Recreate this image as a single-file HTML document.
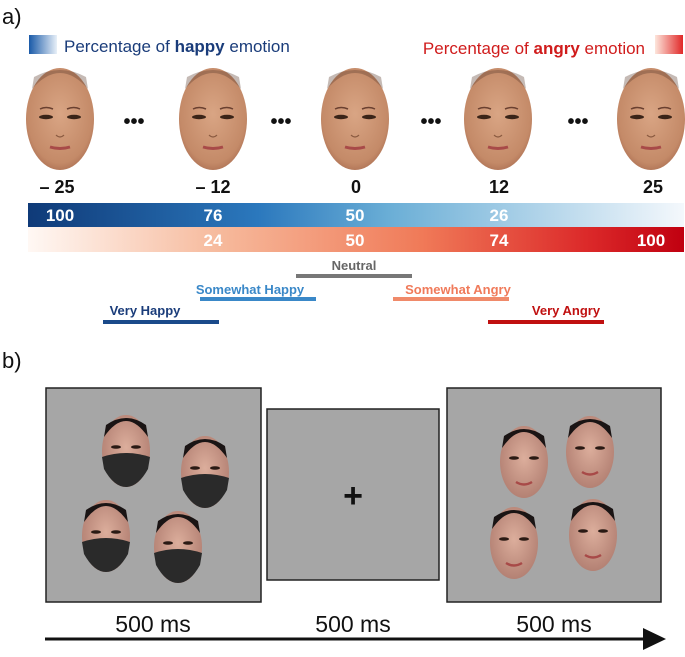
<!DOCTYPE html>
<html><head><meta charset="utf-8"><style>
body{margin:0;background:#fff;width:685px;height:652px;overflow:hidden;font-family:"Liberation Sans",sans-serif}
</style></head><body>
<svg width="685" height="652" viewBox="0 0 685 652" xmlns="http://www.w3.org/2000/svg" font-family="Liberation Sans, sans-serif">
<defs>
<linearGradient id="blueL" x1="0" x2="1"><stop offset="0" stop-color="#0f3a78"/><stop offset="0.35" stop-color="#2b78bd"/><stop offset="0.55" stop-color="#6aaed6"/><stop offset="1" stop-color="#f4f8fc"/></linearGradient>
<linearGradient id="redL" x1="0" x2="1"><stop offset="0" stop-color="#fff8f4"/><stop offset="0.3" stop-color="#f6b89a"/><stop offset="0.6" stop-color="#f07a58"/><stop offset="0.85" stop-color="#dc2a2a"/><stop offset="1" stop-color="#c00010"/></linearGradient>
<linearGradient id="bsw" x1="0" x2="1"><stop offset="0" stop-color="#1a5aa8"/><stop offset="1" stop-color="#e8f0f8"/></linearGradient>
<linearGradient id="rsw" x1="0" x2="1"><stop offset="0" stop-color="#fde6dc"/><stop offset="1" stop-color="#e02828"/></linearGradient>
<radialGradient id="skin" cx="0.5" cy="0.45" r="0.6"><stop offset="0" stop-color="#d9a584"/><stop offset="0.8" stop-color="#c48a68"/><stop offset="1" stop-color="#a86c50"/></radialGradient>
<radialGradient id="skin2" cx="0.5" cy="0.45" r="0.6"><stop offset="0" stop-color="#dcae9c"/><stop offset="1" stop-color="#b07d70"/></radialGradient>
<g id="face">
<ellipse cx="0" cy="0" rx="34" ry="51" fill="url(#skin)"/>
<path d="M-28 -30 Q0 -62 28 -30 L26 -42 Q0 -56 -26 -42Z" fill="#5a3a2a" opacity="0.35"/>
<ellipse cx="-14" cy="-2" rx="7" ry="2.2" fill="#3a2418"/>
<ellipse cx="14" cy="-2" rx="7" ry="2.2" fill="#3a2418"/>
<path d="M-20 -10 Q-14 -13 -7 -10" stroke="#6a4030" stroke-width="1.5" fill="none"/>
<path d="M7 -10 Q14 -13 20 -10" stroke="#6a4030" stroke-width="1.5" fill="none"/>
<path d="M-4 16 Q0 20 4 16" stroke="#8a5a40" stroke-width="1.2" fill="none"/>
<path d="M-10 28 Q0 31 10 28" stroke="#a84a48" stroke-width="3" fill="none"/>
</g>
<g id="smallface">
<ellipse cx="0" cy="0" rx="24" ry="36" fill="url(#skin2)"/>
<path d="M-22 -14 Q0 -46 22 -14 L20 -26 Q0 -40 -20 -26Z" fill="#1a1414"/>
<ellipse cx="-10" cy="-4" rx="5" ry="1.8" fill="#2a1a14"/>
<ellipse cx="10" cy="-4" rx="5" ry="1.8" fill="#2a1a14"/>
</g>
<g id="maskface">
<use href="#smallface"/>
<path d="M-24 6 Q0 -2 24 6 L22 18 Q12 36 0 36 Q-12 36 -22 18Z" fill="#2a2a2a"/>
</g>
<g id="smileface">
<use href="#smallface"/>
<path d="M-8 20 Q0 25 8 20" stroke="#a84a48" stroke-width="2.5" fill="none"/>
</g>
</defs>
<text x="2" y="24" font-size="22" fill="#111">a)</text>
<rect x="29" y="35" width="28" height="19" fill="url(#bsw)"/>
<text x="64" y="52" font-size="17" fill="#1a3c7a">Percentage of <tspan font-weight="bold">happy</tspan> emotion</text>
<text x="645" y="54" font-size="17" fill="#d01c1c" text-anchor="end">Percentage of <tspan font-weight="bold">angry</tspan> emotion</text>
<rect x="655" y="35" width="28" height="19" fill="url(#rsw)"/>
<g>
<use href="#face" x="60" y="119"/><use href="#face" x="213" y="119"/><use href="#face" x="355" y="119"/><use href="#face" x="498" y="119"/><use href="#face" x="651" y="119"/>
</g>
<g font-size="20" font-weight="bold" fill="#111" text-anchor="middle">
<text x="134" y="128">•••</text><text x="281" y="128">•••</text><text x="431" y="128">•••</text><text x="578" y="128">•••</text>
</g>
<g font-size="18" font-weight="bold" fill="#111" text-anchor="middle">
<text x="57" y="193">– 25</text><text x="213" y="193">– 12</text><text x="356" y="193">0</text><text x="499" y="193">12</text><text x="653" y="193">25</text>
</g>
<rect x="28" y="203" width="656" height="24" fill="url(#blueL)"/>
<rect x="28" y="227" width="656" height="25" fill="url(#redL)"/>
<g font-size="17" font-weight="bold" fill="#fff" text-anchor="middle">
<text x="60" y="221">100</text><text x="213" y="221">76</text><text x="355" y="221">50</text><text x="499" y="221">26</text>
<text x="213" y="246">24</text><text x="355" y="246">50</text><text x="499" y="246">74</text><text x="651" y="246">100</text>
</g>
<g font-size="13" font-weight="bold">
<text x="354" y="270" fill="#666" text-anchor="middle">Neutral</text>
<rect x="296" y="274" width="116" height="4" fill="#777"/>
<text x="250" y="294" fill="#3a88c8" text-anchor="middle">Somewhat Happy</text>
<rect x="200" y="297" width="116" height="4" fill="#3a88c8"/>
<text x="458" y="294" fill="#f07a5a" text-anchor="middle">Somewhat Angry</text>
<rect x="393" y="297" width="116" height="4" fill="#f08a6a"/>
<text x="145" y="315" fill="#1a3c7a" text-anchor="middle">Very Happy</text>
<rect x="103" y="320" width="116" height="4" fill="#1a4a8a"/>
<text x="566" y="315" fill="#c01010" text-anchor="middle">Very Angry</text>
<rect x="488" y="320" width="116" height="4" fill="#c01010"/>
</g>
<text x="2" y="368" font-size="22" fill="#111">b)</text>
<rect x="46" y="388" width="215" height="214" fill="#a6a6a6" stroke="#222" stroke-width="1.5"/>
<rect x="267" y="409" width="172" height="171" fill="#a6a6a6" stroke="#222" stroke-width="1.5"/>
<rect x="447" y="388" width="214" height="214" fill="#a6a6a6" stroke="#222" stroke-width="1.5"/>
<g>
<use href="#maskface" x="126" y="451"/><use href="#maskface" x="205" y="472"/><use href="#maskface" x="106" y="536"/><use href="#maskface" x="178" y="547"/>
</g>
<text x="353" y="507" font-size="34" font-weight="bold" text-anchor="middle" fill="#111">+</text>
<g><use href="#smileface" x="524" y="462"/><use href="#smileface" x="590" y="452"/><use href="#smileface" x="514" y="543"/><use href="#smileface" x="593" y="535"/></g>
<g font-size="23" fill="#111" text-anchor="middle">
<text x="153" y="632">500 ms</text><text x="353" y="632">500 ms</text><text x="554" y="632">500 ms</text>
</g>
<line x1="45" y1="639" x2="648" y2="639" stroke="#111" stroke-width="3"/>
<polygon points="643,628 666,639 643,650" fill="#111"/>
</svg>
</body></html>
